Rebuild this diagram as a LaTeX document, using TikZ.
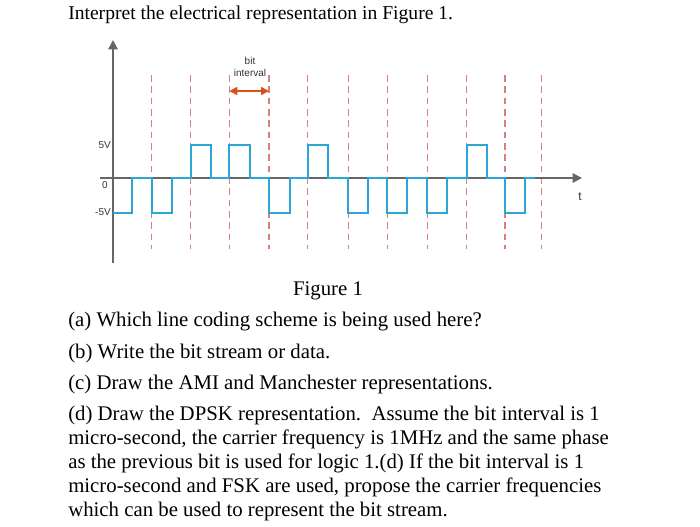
\documentclass[tikz,border=0pt]{standalone}
\usepackage{fontspec}
\setmainfont{Liberation Serif}
\newfontfamily\lab{Liberation Sans}
\usetikzlibrary{arrows.meta}
\definecolor{wave}{HTML}{2AA7D6}
\definecolor{dash}{HTML}{D88080}
\definecolor{arr}{HTML}{D9501C}
\begin{document}
\begin{tikzpicture}[x=0.75pt,y=-0.75pt,
  txt/.style={anchor=west,inner sep=0,font=\fontsize{15.6}{18}\selectfont},
  lbl/.style={inner sep=0,font=\lab\fontsize{7.5}{8.5}\selectfont,text=black!80},
  axis/.style={draw=black!60,line width=1.4pt,-{Triangle[length=7pt,width=7pt]}},
  dl/.style={draw=dash,line width=1pt,dash pattern=on 5pt off 3.5pt}]
\useasboundingbox (0,0) rectangle (700,526);
\fill[white] (0,0) rectangle (700,526);
\node[txt,font=\fontsize{14.7}{17}\selectfont] (title) at (68,15) {Interpret the electrical representation in Figure 1.};
% dashed lines
\foreach \x in {151.7,190.7,229.3,269,307.7,348.3,387.3,427.3,466.7,505,541.7}
  \draw[dl] (\x,75) -- (\x,249);
% axes
\coordinate (ytop) at (113,40);
\coordinate (ybot) at (113,263);
\coordinate (xstart) at (100,178);
\coordinate (xend) at (582,178);
\draw[axis] (ybot) -- (ytop);
\draw[axis] (xstart) -- (xend);
\node[lbl,font=\lab\fontsize{9}{10}\selectfont] (t) at (580,197) {t};
\node[lbl,anchor=east] (v5) at (111,145) {5V};
\node[lbl,anchor=east] (v0) at (108,185) {0};
\node[lbl,anchor=east] (vm5) at (111,212) {-5V};
% waveform
\draw[wave,line width=1.4pt]
 (113,213) -- (131.7,213) -- (131.7,178) -- (151.7,178) -- (151.7,213) -- (171.7,213) -- (171.7,178)
 -- (190.7,178) -- (190.7,145) -- (210.7,145) -- (210.7,178) -- (229.3,178) -- (229.3,145) -- (250,145) -- (250,178)
 -- (269,178) -- (269,213) -- (290,213) -- (290,178) -- (307.7,178) -- (307.7,145) -- (328.3,145) -- (328.3,178)
 -- (348.3,178) -- (348.3,213) -- (368.3,213) -- (368.3,178) -- (387.3,178) -- (387.3,213) -- (407.3,213) -- (407.3,178)
 -- (427.3,178) -- (427.3,213) -- (447.3,213) -- (447.3,178) -- (466.7,178) -- (466.7,145) -- (486.7,145) -- (486.7,178)
 -- (505,178) -- (505,213) -- (525,213) -- (525,178) -- (535,178);
% bit interval
\node[lbl,align=center] (bi) at (250,67) {bit\\interval};
\coordinate (ba) at (229.3,91);
\coordinate (bb) at (269,91);
\draw[arr,line width=1.3pt,{Triangle[length=6pt,width=6pt]}-{Triangle[length=6pt,width=6pt]}] (ba) -- (bb);
% text
\node[txt,anchor=center] (fig) at (328,291) {Figure 1};
\node[txt] (a) at (68,322) {(a) Which line coding scheme is being used here?};
\node[txt] (b) at (68,353) {(b) Write the bit stream or data.};
\node[txt] (c) at (68,384) {(c) Draw the AMI and Manchester representations.};
\node[txt,anchor=north west,align=left,font=\fontsize{15.6}{18}\selectfont] (d) at (68,406) {(d) Draw the DPSK representation.\ \ Assume the bit interval is 1\\
micro-second, the carrier frequency is 1MHz and the same phase\\
as the previous bit is used for logic 1.(d) If the bit interval is 1\\
micro-second and FSK are used, propose the carrier frequencies\\
which can be used to represent the bit stream.};
\end{tikzpicture}
\end{document}
